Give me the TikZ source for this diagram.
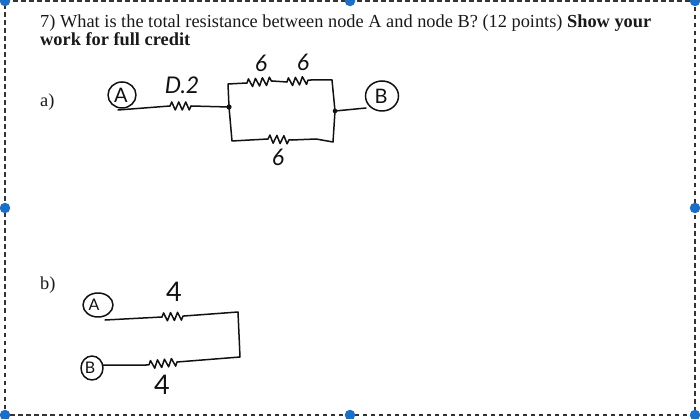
\documentclass[tikz,border=0pt]{standalone}
\usepackage{fontspec}
\setmainfont{Liberation Serif}
\newfontfamily\handfont{Lato}
\usetikzlibrary{decorations.pathmorphing}
\definecolor{handle}{HTML}{1C6FC4}
\definecolor{ink}{HTML}{111111}
\tikzset{
  x=1pt,y=-1pt,
  frameline/.style={draw=black!80,line width=1.1pt,dash pattern=on 4.5pt off 3.5pt},
  handledot/.style={circle,fill=handle,draw=none,minimum size=10.5pt,inner sep=0pt},
  wire/.style={draw=ink,line width=1.5pt,line join=round,line cap=round},
  res/.style={wire,decorate,decoration={zigzag,amplitude=4pt,segment length=7pt}},
  qtext/.style={anchor=base west,inner sep=0pt,font=\fontsize{18.35}{20}\selectfont,text=black!90},
  hand/.style={inner sep=0pt,text=ink,font=\handfont\itshape\fontsize{23}{24}\selectfont},
  bigletter/.style={hand,font=\handfont\fontsize{20}{21}\selectfont},
  smallletter/.style={hand,font=\handfont\fontsize{16}{17}\selectfont}
}
\begin{document}
\begin{tikzpicture}
\useasboundingbox (0,0) rectangle (700,419);
% frame
\coordinate (tl) at (5,1); \coordinate (tr) at (695,1);
\coordinate (bl) at (5,415); \coordinate (br) at (695,415);
\draw[frameline] (tl) -- (tr) -- (br) -- (bl) -- cycle;
\foreach \n/\p in {h1/{5,1},h2/{350,1},h3/{695,1},h4/{5,208},h5/{695,208},h6/{5,415},h7/{350,415},h8/{695,415}}
  \node[handledot] (\n) at (\p) {};
% question
\node[qtext] (q1) at (40,28) {7) What is the total resistance between node A and node B? (12 points) \textbf{Show your}};
\node[qtext] (q2) at (40,46) {\textbf{work for full credit}};
\node[qtext] (la) at (40,107) {a)};
\node[qtext] (lb) at (40,289) {b)};
% circuit a
\node[bigletter] (A1) at (121,95) {A};
\node[bigletter] (B1) at (381,96) {B};
\draw[wire] (122,95) ellipse [x radius=14,y radius=13];
\draw[wire] (382,96) ellipse [x radius=16.5,y radius=15];
\coordinate (a0) at (118,110);
\coordinate (r1a) at (170,106); \coordinate (r1b) at (191,106);
\coordinate (j1) at (229,107); \coordinate (j2) at (335,111);
\coordinate (tl1) at (228,84); \coordinate (tr1) at (332,80);
\coordinate (bl1) at (232,141); \coordinate (br1) at (333,142);
\coordinate (r2a) at (247,83); \coordinate (r2b) at (272,81);
\coordinate (r3a) at (287,82); \coordinate (r3b) at (311,80);
\coordinate (r4a) at (268,139); \coordinate (r4b) at (292,140);
\coordinate (b0) at (366,108);
\draw[wire] (a0) -- (r1a) (r1b) -- (j1);
\draw[res] (r1a) -- (r1b);
\draw[wire] (j1) -- (tl1) -- (r2a) (r2b) -- (r3a) (r3b) -- (tr1) -- (j2) -- (br1) -- (316,139) -- (r4b) (r4a) -- (bl1) -- (j1);
\draw[res] (r2a) -- (r2b);
\draw[res] (r3a) -- (r3b);
\draw[res] (r4a) -- (r4b);
\draw[wire] (j2) -- (b0);
\fill[ink] (j1) circle (2.6) (j2) circle (2.3);
\node[hand] (v1) at (182,85) {D.2};
\node[hand] (v2) at (261,63) {6};
\node[hand] (v3) at (303,62) {6};
\node[hand] (v4) at (278,157) {6};
% circuit b
\node[smallletter] (A2) at (94,305) {A};
\node[smallletter] (B2) at (90,368) {B};
\draw[wire] (98,305) ellipse [x radius=15,y radius=12];
\draw[wire] (92,368) ellipse [x radius=11,y radius=12];
\coordinate (c0) at (105,320);
\coordinate (r5a) at (162,317); \coordinate (r5b) at (184,316);
\coordinate (c1) at (238,312); \coordinate (c2) at (240,357);
\coordinate (r6a) at (177,362); \coordinate (r6b) at (146,365);
\coordinate (c3) at (103,365);
\draw[wire] (c0) -- (r5a) (r5b) -- (c1) -- (c2) -- (r6a) (r6b) -- (c3);
\draw[res] (r5a) -- (r5b);
\draw[res] (r6a) -- (r6b);
\node[hand,font=\handfont\fontsize{27}{28}\selectfont] (v5) at (174,292) {4};
\node[hand,font=\handfont\fontsize{27}{28}\selectfont] (v6) at (162,385) {4};
\end{tikzpicture}
\end{document}
